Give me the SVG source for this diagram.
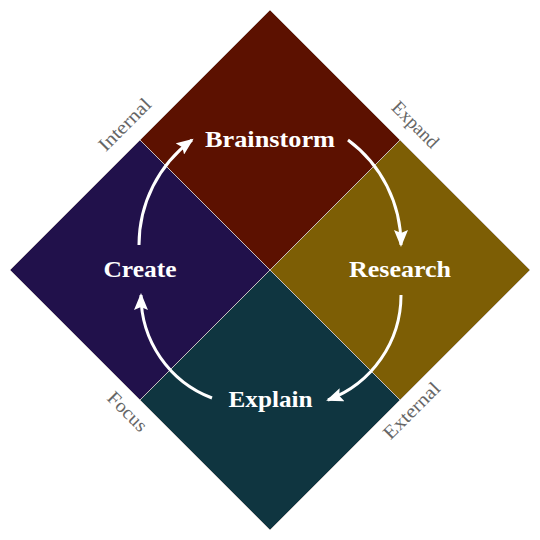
<svg xmlns="http://www.w3.org/2000/svg" width="540" height="540" viewBox="0 0 540 540">
  <defs>
    <style>
      .quad { stroke: #c8c0c0; stroke-width: 1; }
      .label { font-family: "Liberation Serif", "DejaVu Serif", serif; font-weight: bold; font-size: 24px; fill: #ffffff; text-anchor: middle; }
      .side { font-family: "Liberation Serif", "DejaVu Serif", serif; font-size: 19px; fill: #666666; text-anchor: middle; }
      .arrow { fill: none; stroke: #ffffff; stroke-width: 3; marker-end: url(#head); }
    </style>
    <marker id="head" markerUnits="userSpaceOnUse" markerWidth="18" markerHeight="14" refX="15" refY="7" orient="auto">
      <path d="M0,0 L17,7 L0,14 L3,7 z" fill="#ffffff"/>
    </marker>
  </defs>
  <rect width="540" height="540" fill="#ffffff"/>

  <g id="brainstorm">
    <polygon class="quad" points="270,10 400,140 270,270 140,140" fill="#5c1100"/>
    <text class="label" x="270" y="147" textLength="130" lengthAdjust="spacingAndGlyphs">Brainstorm</text>
  </g>
  <g id="research">
    <polygon class="quad" points="400,140 530,270 400,400 270,270" fill="#7d5e05"/>
    <text class="label" x="400" y="277" textLength="102" lengthAdjust="spacingAndGlyphs">Research</text>
  </g>
  <g id="explain">
    <polygon class="quad" points="270,270 400,400 270,530 140,400" fill="#0f3540"/>
    <text class="label" x="270.5" y="407" textLength="84" lengthAdjust="spacingAndGlyphs">Explain</text>
  </g>
  <g id="create">
    <polygon class="quad" points="140,140 270,270 140,400 10,270" fill="#21114b"/>
    <text class="label" x="140" y="277" textLength="73" lengthAdjust="spacingAndGlyphs">Create</text>
  </g>

  <g id="side-labels">
    <text class="side" transform="translate(129,129) rotate(-45)" textLength="66" lengthAdjust="spacingAndGlyphs">Internal</text>
    <text class="side" transform="translate(411,129) rotate(45)" textLength="58" lengthAdjust="spacingAndGlyphs">Expand</text>
    <text class="side" transform="translate(123,416) rotate(45)" textLength="48" lengthAdjust="spacingAndGlyphs">Focus</text>
    <text class="side" transform="translate(416,415) rotate(-45)" textLength="72" lengthAdjust="spacingAndGlyphs">External</text>
  </g>

  <g id="connectors">
    <path class="arrow" d="M139,245 A130.5,130.5 0 0 1 192,140"/>
    <path class="arrow" d="M348,140 A130.5,130.5 0 0 1 401,245"/>
    <path class="arrow" d="M401,295 A112,112 0 0 1 328,400"/>
    <path class="arrow" d="M212,398 A110,110 0 0 1 141,295"/>
  </g>
</svg>
